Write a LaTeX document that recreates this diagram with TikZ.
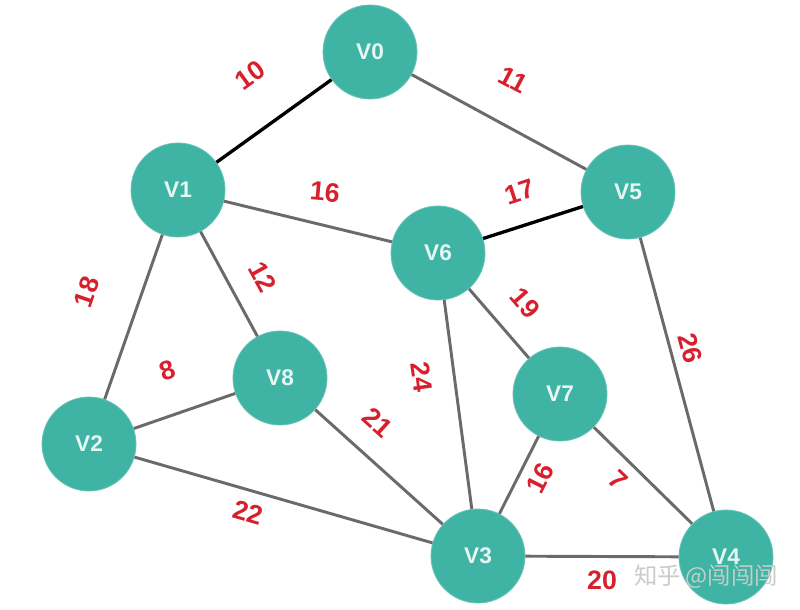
\documentclass[tikz,border=0pt]{standalone}
\usepackage{fontspec}
\setmainfont{Liberation Sans}
\newfontfamily\cjk{Noto Sans CJK SC}
\definecolor{tealfill}{HTML}{40B4A4}
\definecolor{nodetext}{HTML}{E6F7F3}
\definecolor{edgegray}{HTML}{6A6A6A}
\definecolor{labelred}{HTML}{D8202C}
\definecolor{wmgray}{HTML}{C8CCCB}
\begin{document}
\begin{tikzpicture}[x=0.75pt,y=-0.75pt,
  vertex/.style={circle,fill=tealfill,draw=tealfill!80!white,line width=0.6pt,minimum size=70.5pt,inner sep=0pt,
    text=nodetext,font=\fontsize{17}{19}\selectfont\bfseries},
  edge/.style={draw=edgegray,line width=2.2pt},
  chosen/.style={draw=black,line width=2.5pt},
  wlabel/.style={text=labelred,font=\fontsize{20}{24}\selectfont\bfseries,inner sep=0pt},
  wmark/.style={font=\cjk\fontsize{17.5}{20}\selectfont,inner sep=0pt,text=wmgray}]
\path[use as bounding box,fill=white] (0,0) rectangle (800,610);
\node[vertex] (v0) at (370,52) {V0};
\node[vertex] (v1) at (178,190) {V1};
\node[vertex] (v5) at (628,192) {V5};
\node[vertex] (v6) at (438,253) {V6};
\node[vertex] (v8) at (280,378) {V8};
\node[vertex] (v7) at (560,394) {V7};
\node[vertex] (v2) at (89,444) {V2};
\node[vertex] (v3) at (478,556) {V3};
\node[vertex] (v4) at (726,557) {V4};
\draw[chosen] (v1) -- (v0);
\draw[edge] (v0) -- (v5);
\draw[edge] (v1) -- (v6);
\draw[chosen] (v6) -- (v5);
\draw[edge] (v1) -- (v2);
\draw[edge] (v1) -- (v8);
\draw[edge] (v2) -- (v8);
\draw[edge] (v2) -- (v3);
\draw[edge] (v8) -- (v3);
\draw[edge] (v6) -- (v3);
\draw[edge] (v6) -- (v7);
\draw[edge] (v7) -- (v3);
\draw[edge] (v7) -- (v4);
\draw[edge] (v5) -- (v4);
\draw[edge] (v3) -- (v4);
\node[wlabel,rotate=36] (l10) at (250,75) {10};
\node[wlabel,rotate=-28] (l11) at (513,80) {11};
\node[wlabel,rotate=-5] (l16a) at (325,192) {16};
\node[wlabel,rotate=18] (l17) at (520,192) {17};
\node[wlabel,rotate=71] (l18) at (87,292) {18};
\node[wlabel,rotate=-61] (l12) at (263,277) {12};
\node[wlabel,rotate=19] (l8) at (168,370) {8};
\node[wlabel,rotate=-16] (l22) at (248,513) {22};
\node[wlabel,rotate=-42] (l21) at (378,423) {21};
\node[wlabel,rotate=-82] (l24) at (422,377) {24};
\node[wlabel,rotate=-49] (l19) at (525,303) {19};
\node[wlabel,rotate=-75] (l26) at (690,348) {26};
\node[wlabel,rotate=63] (l16b) at (540,478) {16};
\node[wlabel,rotate=-44] (l7) at (618,480) {7};
\node[wlabel] (l20) at (602,580) {20};
\node[wmark] (wm) at (706,577) {知乎 @闯闯闯};
\end{tikzpicture}
\end{document}
